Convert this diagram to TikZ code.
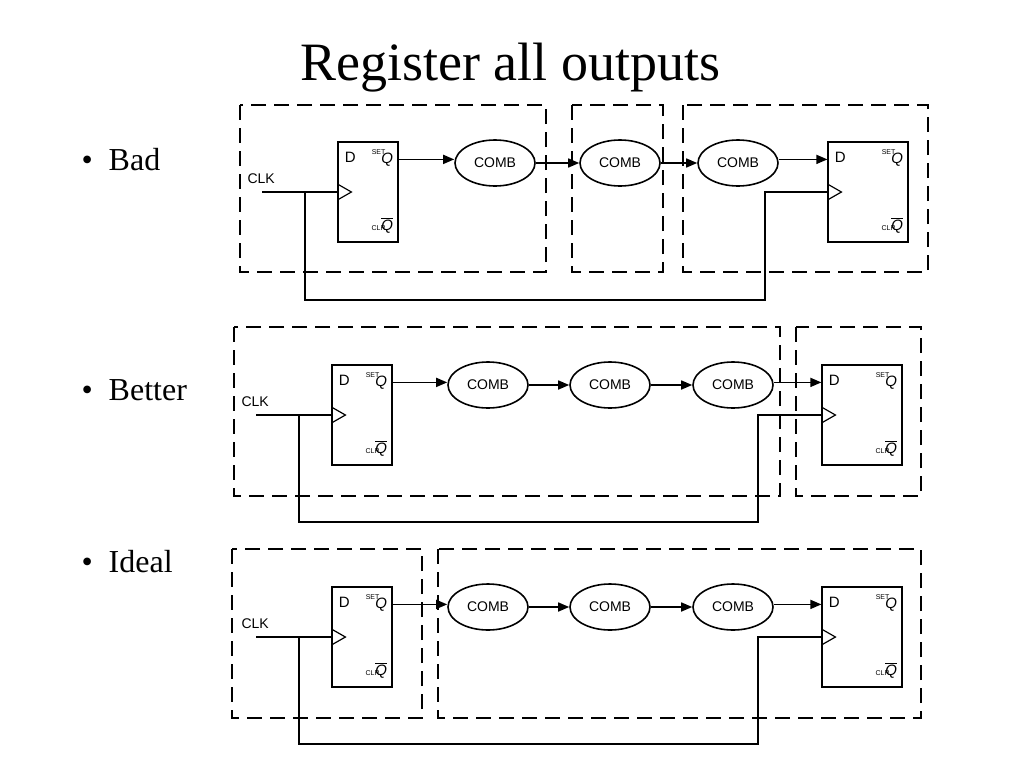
\documentclass[tikz,border=0pt]{standalone}
\usepackage{fontspec}
\setmainfont{Liberation Serif}
\setsansfont{Liberation Sans}
\usetikzlibrary{arrows.meta,positioning,shapes.geometric}

\tikzset{
  ffbox/.style={draw, line width=1.2pt, minimum height=100pt, inner sep=0pt},
  comb/.style={draw, ellipse, line width=1.6pt, minimum width=80pt, minimum height=46pt, font=\sffamily\fontsize{14}{14}\selectfont},
  wire/.style={line width=1.6pt},
  sig/.style={line width=1.6pt, -{Triangle[length=11pt,width=9pt]}},
  region/.style={line width=2.2pt, dash pattern=on 15pt off 8pt},
  bullet/.style={anchor=west, font=\fontsize{32}{32}\selectfont}
}
% flip-flop: name, centre, width
\newcommand{\dff}[3]{
  \node[ffbox, minimum width=#3] (#1) at (#2) {};
  \node[anchor=west, font=\sffamily\fontsize{15}{15}\selectfont] at ([xshift=4pt,yshift=-16pt]#1.north west) {D};
  \node[font=\sffamily\fontsize{7}{7}\selectfont] at ([xshift=-20pt,yshift=-11pt]#1.north east) {SET};
  \node[anchor=east, font=\sffamily\itshape\fontsize{15}{15}\selectfont] at ([xshift=-2pt,yshift=-18pt]#1.north east) {Q};
  \node[font=\sffamily\fontsize{7}{7}\selectfont] at ([xshift=-20pt,yshift=15pt]#1.south east) {CLR};
  \node[anchor=east, font=\sffamily\itshape\fontsize{15}{15}\selectfont] at ([xshift=-2pt,yshift=17pt]#1.south east) {$\overline{\mbox{\sffamily\itshape Q}}$};
  \draw[line width=1.2pt] ([yshift=8pt]#1.west) -- ([xshift=14pt]#1.west) -- ([yshift=-8pt]#1.west);
  \coordinate (#1q) at ([yshift=-18pt]#1.north east);
  \coordinate (#1d) at ([yshift=-18pt]#1.north west);
}

\begin{document}
\begin{tikzpicture}[x=1pt,y=-1pt]
\useasboundingbox (0,0) rectangle (1024,768);
\node[font=\fontsize{54}{54}\selectfont] (title) at (510,68) {Register all outputs};

% Bad
\node[bullet] (bad) at (78,160) {\textbullet\ \ Bad};
\dff{fa}{368,192}{60pt}
\dff{fb}{868,192}{80pt}
\node[comb] (ca) at (495,163) {COMB};
\node[comb] (cb) at (620,163) {COMB};
\node[comb] (cc) at (738,163) {COMB};
\node[anchor=south west, font=\sffamily\fontsize{14}{14}\selectfont] (clka) at (244,187) {CLK};
\coordinate (ka) at (262,192);
\draw[wire] (ka) -- (fa.west);
\draw[wire] (305,192) -- (305,300) -- (765,300) -- (765,192) -- (fb.west);
\draw[sig] (faq) -- (ca.west |- faq);
\draw[sig] (ca) -- (cb);
\draw[sig] (cb) -- (cc);
\draw[sig] (cc.east |- fbd) -- (fbd);
\draw[region] (240,105) rectangle (546,272);
\draw[region] (572,105) rectangle (663,272);
\draw[region] (683,105) rectangle (928,272);

% Better
\node[bullet] (better) at (78,390) {\textbullet\ \ Better};
\dff{ga}{362,415}{60pt}
\dff{gb}{862,415}{80pt}
\node[comb] (da) at (488,385) {COMB};
\node[comb] (db) at (610,385) {COMB};
\node[comb] (dc) at (733,385) {COMB};
\node[anchor=south west, font=\sffamily\fontsize{14}{14}\selectfont] (clkb) at (238,410) {CLK};
\coordinate (kb) at (256,415);
\draw[wire] (kb) -- (ga.west);
\draw[wire] (299,415) -- (299,522) -- (758,522) -- (758,415) -- (gb.west);
\draw[sig] (gaq) -- (da.west |- gaq);
\draw[sig] (da) -- (db);
\draw[sig] (db) -- (dc);
\draw[sig] (dc.east |- gbd) -- (gbd);
\draw[region] (234,327) rectangle (780,496);
\draw[region] (796,327) rectangle (921,496);

% Ideal
\node[bullet] (ideal) at (78,562) {\textbullet\ \ Ideal};
\dff{ha}{362,637}{60pt}
\dff{hb}{862,637}{80pt}
\node[comb] (ea) at (488,607) {COMB};
\node[comb] (eb) at (610,607) {COMB};
\node[comb] (ec) at (733,607) {COMB};
\node[anchor=south west, font=\sffamily\fontsize{14}{14}\selectfont] (clkc) at (238,632) {CLK};
\coordinate (kc) at (256,637);
\draw[wire] (kc) -- (ha.west);
\draw[wire] (299,637) -- (299,744) -- (758,744) -- (758,637) -- (hb.west);
\draw[sig] (haq) -- (ea.west |- haq);
\draw[sig] (ea) -- (eb);
\draw[sig] (eb) -- (ec);
\draw[sig] (ec.east |- hbd) -- (hbd);
\draw[region] (232,549) rectangle (422,718);
\draw[region] (438,549) rectangle (921,718);
\end{tikzpicture}
\end{document}
